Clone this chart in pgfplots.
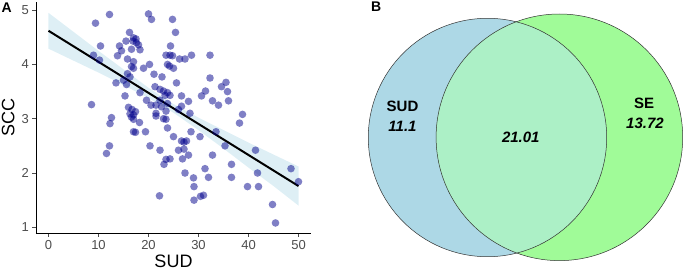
\documentclass[border=0pt]{standalone}
\usepackage{pgfplots}
\pgfplotsset{compat=1.18}
\usepackage{fontspec}
\setmainfont{Liberation Sans}
\definecolor{dkblue}{RGB}{0,0,139}
\definecolor{lblue}{RGB}{173,216,230}
\definecolor{pgreen}{RGB}{160,251,152}
\definecolor{mixc}{RGB}{172,240,198}
\definecolor{tickgrey}{RGB}{77,77,77}
\begin{document}
\begin{tikzpicture}
\useasboundingbox (0,0) rectangle (685pt,271pt);
\begin{axis}[
  at={(36pt,38pt)}, anchor=south west,
  scale only axis, width=275pt, height=231pt,
  xmin=-2.5, xmax=52.5, ymin=0.895, ymax=5.15,
  axis x line*=bottom, axis y line*=left,
  axis line style={black, line width=0.6pt, -},
  xtick={0,10,...,50}, ytick={1,2,3,4,5},
  tick align=outside, major tick length=3.5pt,
  tick style={tickgrey, line width=0.6pt},
  /pgf/number format/assume math mode=true,
  ticklabel style={font=\fontsize{13}{13}\selectfont, text=tickgrey},
  xlabel={SUD}, ylabel={SCC},
  xlabel style={font=\fontsize{18}{18}\selectfont, at={(axis description cs:0.5,-0.095)}, anchor=north, inner sep=0pt},
  ylabel style={font=\fontsize{18}{18}\selectfont, at={(axis description cs:-0.125,0.5)}, anchor=north, inner sep=0pt},
]
\addplot[only marks, color=dkblue, mark=*, mark size=3.8pt, mark options={solid, draw opacity=0, fill=dkblue, fill opacity=0.5}] table {
x y
9.4 4.76
12.2 4.92
20.0 4.93
20.6 4.83
24.8 4.83
25.4 4.59
16.2 4.59
17.0 4.49
17.5 4.47
16.9 4.43
17.6 4.40
15.5 4.43
10.4 4.34
14.2 4.34
24.4 4.34
18.0 4.36
18.3 4.27
14.6 4.25
13.8 4.16
16.6 4.28
23.5 4.17
24.3 4.17
24.8 4.16
26.2 4.10
27.3 4.10
28.6 4.17
32.3 4.17
23.8 4.00
24.2 3.97
25.0 3.93
15.8 4.10
17.0 4.05
16.6 3.96
17.0 3.93
9.0 4.17
10.2 4.08
19.0 3.93
20.2 4.00
21.1 3.82
22.7 3.77
25.6 3.66
15.8 3.83
16.3 3.77
15.0 3.71
15.6 3.63
13.5 3.66
21.3 3.59
32.3 3.75
35.5 3.67
34.6 3.59
35.8 3.50
31.4 3.51
23.0 3.51
23.8 3.48
18.3 3.48
22.3 3.54
15.3 3.42
24.3 3.43
23.3 3.43
26.6 3.42
28.0 3.32
30.6 3.42
32.8 3.33
34.0 3.25
36.0 3.33
19.6 3.34
20.5 3.25
21.5 3.25
22.6 3.22
22.3 3.34
8.6 3.26
16.0 3.21
16.7 3.17
17.4 3.13
17.0 3.07
16.3 3.09
23.8 3.28
23.5 3.14
21.5 3.10
28.3 3.10
26.0 3.17
26.6 3.23
38.8 3.08
38.2 2.92
12.6 3.02
12.3 2.91
16.6 3.03
17.0 2.99
18.2 2.93
21.5 3.05
23.0 3.00
23.5 2.99
23.8 2.83
17.0 2.76
17.4 2.75
19.4 2.76
28.5 2.76
33.5 2.76
30.3 2.67
25.0 2.67
12.2 2.50
11.6 2.36
20.3 2.50
22.3 2.42
26.6 2.59
27.6 2.59
27.1 2.57
26.0 2.42
27.1 2.44
28.0 2.33
35.3 2.50
41.4 2.42
32.8 2.33
26.8 2.26
24.3 2.26
23.5 2.25
23.1 2.16
27.3 2.00
22.2 1.58
29.0 1.91
29.1 1.75
29.1 1.50
30.4 1.57
31.0 1.59
31.3 2.08
32.0 1.92
36.6 2.16
36.6 1.92
41.8 2.00
48.5 2.08
50.0 1.84
39.8 1.75
42.0 1.75
44.8 1.42
45.4 1.08
};
\addplot[draw=none, fill=lblue, fill opacity=0.4] coordinates {
(0,4.95) (5,4.60) (10,4.25) (15,3.91) (20,3.57) (25,3.27) (30,3.02) (35,2.79) (40,2.56) (45,2.34) (50,2.12)
(50,1.40) (45,1.76) (40,2.10) (35,2.45) (30,2.79) (25,3.11) (20,3.38) (15,3.62) (10,3.85) (5,4.07) (0,4.29)
} -- cycle;
\addplot[black, line width=2pt] coordinates {(0,4.62) (50,1.76)};
\end{axis}
\begin{axis}[
  at={(335pt,0pt)}, anchor=south west,
  scale only axis, width=350pt, height=271pt,
  xmin=335, xmax=685, ymin=0, ymax=271,
  hide axis, clip=false,
]
\fill[lblue] (axis cs:487.5,133.5) circle[radius=119.2];
\fill[pgreen] (axis cs:559.4,133.7) circle[radius=123.3];
\begin{scope}
\clip (axis cs:487.5,133.5) circle[radius=119.2];
\fill[mixc] (axis cs:559.4,133.7) circle[radius=123.3];
\end{scope}
\draw[black!80, line width=0.5pt] (axis cs:487.5,133.5) circle[radius=119.2];
\draw[black!80, line width=0.5pt] (axis cs:559.4,133.7) circle[radius=123.3];
\node[font=\bfseries\fontsize{15}{15}\selectfont, inner sep=0pt] at (axis cs:402.5,164.3) {SUD};
\node[font=\bfseries\itshape\fontsize{15}{15}\selectfont, inner sep=0pt] at (axis cs:402.5,145) {11.1};
\node[font=\bfseries\itshape\fontsize{15}{15}\selectfont, inner sep=0pt] at (axis cs:520.8,134) {21.01};
\node[font=\bfseries\fontsize{15}{15}\selectfont, inner sep=0pt] at (axis cs:644.2,167.7) {SE};
\node[font=\bfseries\itshape\fontsize{15}{15}\selectfont, inner sep=0pt] at (axis cs:645,147.3) {13.72};
\end{axis}
\node[anchor=north west, font=\bfseries\fontsize{14}{14}\selectfont, inner sep=0pt] at (1.5pt,268pt) {A};
\node[anchor=north west, font=\bfseries\fontsize{14}{14}\selectfont, inner sep=0pt] at (371pt,269pt) {B};
\end{tikzpicture}
\end{document}
